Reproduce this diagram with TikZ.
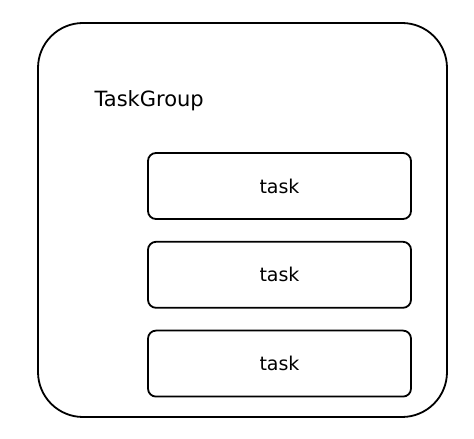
\documentclass[tikz,border=0pt]{standalone}
\usepackage{fontspec}
\setmainfont{DejaVu Sans}
\usetikzlibrary{positioning}
\tikzset{
  sketch/.style={draw, line width=1.8pt, inner sep=0pt},
  groupbox/.style={sketch, rounded corners=45pt, minimum width=409pt, minimum height=394pt},
  taskbox/.style={sketch, rounded corners=8pt, minimum width=263pt, minimum height=66pt,
    font=\fontsize{19}{22}\selectfont}
}

\begin{document}
\begin{tikzpicture}[x=1pt,y=1pt]
    \useasboundingbox (0,0) rectangle (474,439);

    % Group frame
    \node[groupbox] (group) at (242.5,219) {};

    % Label
    \node[anchor=west, font=\fontsize{21}{24}\selectfont] (grouplabel) at (91,338) {TaskGroup};

    % Tasks
    \node[taskbox] (task1) at (279.5,253) {task};
    \node[taskbox, below=21pt of task1] (task2) {task};
    \node[taskbox, below=21pt of task2] (task3) {task};
\end{tikzpicture}
\end{document}
